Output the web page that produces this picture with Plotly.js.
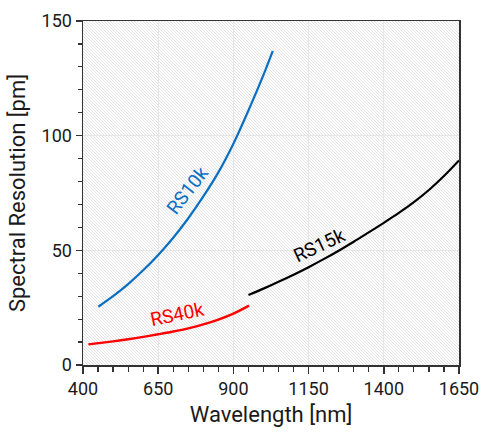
<!DOCTYPE html>
<html>
<head>
<meta charset="utf-8">
<script src="https://cdn.plot.ly/plotly-3.0.1.min.js"></script>
<style>html,body{margin:0;padding:0;background:#fff;}</style>
</head>
<body>
<div id="chart" style="width:488px;height:434px;"></div>
<script>
// RS10k (blue)
const rs10kWavelength = [451, 500, 550, 600, 650, 700, 750, 800, 850, 900, 950, 1000, 1031];
const rs10kResolution = [25.4, 30.0, 35.3, 41.3, 48.0, 55.5, 64.0, 73.5, 84.0, 96.5, 111.0, 126.5, 137.0];
// RS40k (red)
const rs40kWavelength = [418, 500, 550, 600, 650, 700, 750, 800, 850, 900, 952];
const rs40kResolution = [9.0, 10.3, 11.2, 12.25, 13.4, 14.6, 16.0, 17.7, 19.8, 22.4, 25.9];
// RS15k (black)
const rs15kWavelength = [950, 1000, 1050, 1100, 1150, 1200, 1250, 1300, 1350, 1400, 1450, 1500, 1550, 1600, 1650];
const rs15kResolution = [30.5, 33.3, 36.25, 39.35, 42.65, 46.15, 49.85, 53.75, 57.85, 62.0, 66.3, 71.0, 76.3, 82.4, 89.2];

const seriesNames = ["RS10k", "RS40k", "RS15k"];
const xTickVals = [400, 650, 900, 1150, 1400, 1650];
const yTickVals = [0, 50, 100, 150];

const FONT = "Roboto, 'Noto Sans', Arial, sans-serif";

// diagonal hatch texture for the plot background (drawn as a layout image)
const hatchSvg =
  '<svg xmlns="http://www.w3.org/2000/svg" width="376" height="344">' +
  '<defs><pattern id="p" patternUnits="userSpaceOnUse" width="3" height="3">' +
  '<rect width="3" height="3" fill="#ffffff"/>' +
  '<path d="M-1,-1 L4,4 M2,-1 L4,1 M-1,2 L1,4" stroke="#dcdcdc" stroke-width="0.8"/>' +
  '</pattern></defs><rect width="376" height="344" fill="url(#p)"/></svg>';
const hatchUri = "data:image/svg+xml;charset=utf-8," + encodeURIComponent(hatchSvg);

const traces = [
  {x: rs10kWavelength, y: rs10kResolution, mode: "lines", name: seriesNames[0],
   line: {color: "#0a6fc2", width: 2.2, shape: "spline", smoothing: 0.8}},
  {x: rs40kWavelength, y: rs40kResolution, mode: "lines", name: seriesNames[1],
   line: {color: "#ff0000", width: 2.4, shape: "spline", smoothing: 0.8}},
  {x: rs15kWavelength, y: rs15kResolution, mode: "lines", name: seriesNames[2],
   line: {color: "#000000", width: 2.2, shape: "spline", smoothing: 0.8}}
];

const layout = {
  width: 488, height: 434,
  margin: {l: 83, r: 29, t: 21, b: 69},
  paper_bgcolor: "#ffffff",
  plot_bgcolor: "#ffffff",
  showlegend: false,
  font: {family: FONT, color: "#1a1a1a", size: 18},
  images: [{
    source: hatchUri, xref: "paper", yref: "paper", x: 0, y: 1, sizex: 1, sizey: 1,
    xanchor: "left", yanchor: "top", sizing: "stretch", layer: "below"
  }],
  xaxis: {
    range: [400, 1650], tickvals: xTickVals, ticktext: xTickVals.map(String),
    ticks: "outside", ticklen: 7, tickwidth: 1.5, tickcolor: "#333",
    showline: true, linecolor: "#333", linewidth: 1.5, mirror: true,
    showgrid: true, gridcolor: "#e6e6e6", gridwidth: 1, zeroline: false,
    tickfont: {size: 18, family: FONT, color: "#1a1a1a"},
    minor: {dtick: 50, tick0: 400, ticks: "outside", ticklen: 5, tickwidth: 1.2, tickcolor: "#333", showgrid: false},
    title: {text: "Wavelength [nm]", font: {size: 22, family: FONT, color: "#1a1a1a"}, standoff: 8}
  },
  yaxis: {
    range: [0, 150], tickvals: yTickVals, ticktext: yTickVals.map(String),
    ticks: "outside", ticklen: 6, tickwidth: 1.5, tickcolor: "#333",
    showline: true, linecolor: "#333", linewidth: 1.5, mirror: true,
    showgrid: true, gridcolor: "#e6e6e6", gridwidth: 1, zeroline: false,
    tickfont: {size: 18, family: FONT, color: "#1a1a1a"},
    minor: {dtick: 10, tick0: 0, ticks: "outside", ticklen: 4, tickwidth: 1.2, tickcolor: "#333", showgrid: false},
    title: {text: "Spectral Resolution [pm]", font: {size: 22, family: FONT, color: "#1a1a1a"}, standoff: 10}
  },
  annotations: [
    {x: 746, y: 76.3, xref: "x", yref: "y", text: seriesNames[0], showarrow: false,
     textangle: -52, font: {size: 19, family: FONT, color: "#0a6fc2"}, xanchor: "center", yanchor: "middle"},
    {x: 711, y: 22.2, xref: "x", yref: "y", text: seriesNames[1], showarrow: false,
     textangle: -12, font: {size: 19, family: FONT, color: "#ff0000"}, xanchor: "center", yanchor: "middle"},
    {x: 1185, y: 52.3, xref: "x", yref: "y", text: seriesNames[2], showarrow: false,
     textangle: -25, font: {size: 19, family: FONT, color: "#000000"}, xanchor: "center", yanchor: "middle"}
  ]
};

Plotly.newPlot("chart", traces, layout, {staticPlot: true, displayModeBar: false});
</script>
</body>
</html>
